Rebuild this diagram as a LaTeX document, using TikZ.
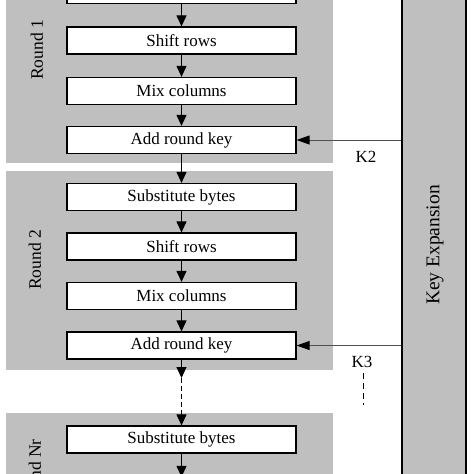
\documentclass[tikz,border=0pt]{standalone}
\usepackage{fontspec}
\setmainfont{Liberation Serif}
\usetikzlibrary{arrows.meta}
\definecolor{panelgray}{HTML}{BFBFBF}
\definecolor{keyline}{HTML}{505050}
\begin{document}
\begin{tikzpicture}[x=1pt,y=-1pt,
  stepbox/.style={draw=black, line width=1.2pt, fill=white, minimum width=229pt, minimum height=27pt, inner sep=0pt, font=\fontsize{17}{19}\selectfont},
  flow/.style={-{Triangle[length=11pt,width=10pt]}, line width=1pt},
  keyarrow/.style={-{Triangle[length=13pt,width=9pt,color=black]}, line width=0.9pt, draw=keyline},
  roundlabel/.style={rotate=90, font=\fontsize{17.5}{20}\selectfont},
  klabel/.style={font=\fontsize{17}{20}\selectfont, inner sep=0pt},
  ]
\useasboundingbox (0,0) rectangle (474,474);
\clip (0,0) rectangle (474,474);
\fill[white] (0,0) rectangle (474,474);
% round panels
\fill[panelgray] (6,-10) rectangle (333,163);
\fill[panelgray] (6,171) rectangle (333,370);
\fill[panelgray] (6,413) rectangle (333,520);
% key expansion
\node[draw=black, line width=1.5pt, fill=panelgray, minimum width=64pt, minimum height=560pt, inner sep=0pt] (keyexp) at (434,245) {};
\node[rotate=90, font=\fontsize{19.5}{22}\selectfont] (keylabel) at (435,245) {Key Expansion};
% round 1
\node[stepbox] (prev) at (181.5,-10) {};
\node[stepbox] (sr1) at (181.5,40.5) {Shift rows};
\node[stepbox] (mc1) at (181.5,91) {Mix columns};
\node[stepbox] (ark1) at (181.5,140) {Add round key};
% round 2
\node[stepbox] (sb2) at (181.5,197) {Substitute bytes};
\node[stepbox] (sr2) at (181.5,246.5) {Shift rows};
\node[stepbox] (mc2) at (181.5,296) {Mix columns};
\node[stepbox] (ark2) at (181.5,345.5) {Add round key};
% round Nr
\node[stepbox] (sbN) at (181.5,439.5) {Substitute bytes};
\node[stepbox] (nextN) at (181.5,491) {};
% round labels
\node[roundlabel] (r1) at (37,50) {Round 1};
\node[roundlabel] (r2) at (35,260) {Round 2};
\node[roundlabel] (rN) at (35,474) {Round Nr};
% flow arrows
\draw[flow] (prev.south) -- (sr1.north);
\draw[flow] (sr1.south) -- (mc1.north);
\draw[flow] (mc1.south) -- (ark1.north);
\draw[flow] (ark1.south) -- (sb2.north);
\draw[flow] (sb2.south) -- (sr2.north);
\draw[flow] (sr2.south) -- (mc2.north);
\draw[flow] (mc2.south) -- (ark2.north);
\coordinate (gap) at (181.5,378);
\draw[flow] (ark2.south) -- (gap);
\draw[flow, dash pattern=on 5pt off 3pt] (gap) -- (sbN.north);
\draw[flow] (sbN.south) -- (nextN.north);
% key arrows
\draw[keyarrow] (keyexp.west |- ark1.east) -- (ark1.east);
\draw[keyarrow] (keyexp.west |- ark2.east) -- (ark2.east);
\node[klabel] (k2) at (366,157) {K2};
\node[klabel] (k3) at (362,362) {K3};
\coordinate (k3a) at (363,373);
\coordinate (k3b) at (363,405);
\draw[line width=1pt, dash pattern=on 6pt off 4pt] (k3a) -- (k3b);
\end{tikzpicture}
\end{document}
